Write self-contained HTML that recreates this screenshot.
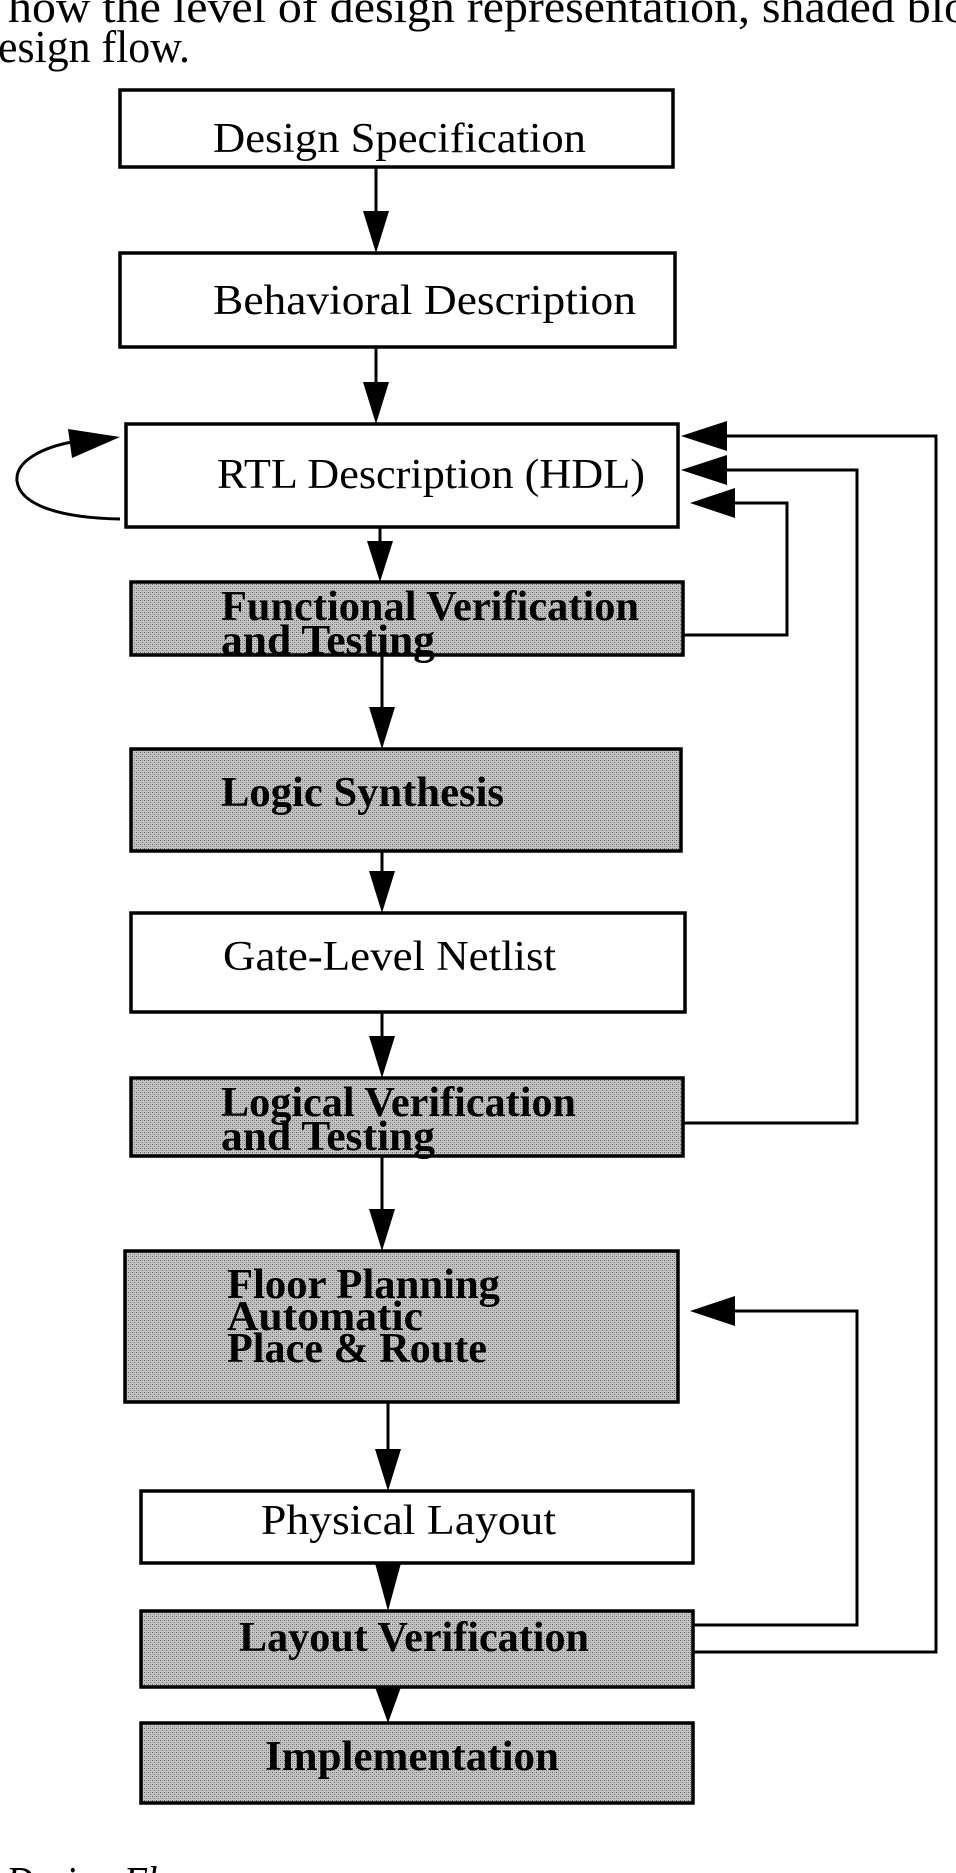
<!DOCTYPE html>
<html><head><meta charset="utf-8"><style>
html,body{margin:0;padding:0;background:#fff;}
svg{display:block;}
text{font-family:"Liberation Serif",serif;fill:#000;}
</style></head><body>
<svg width="956" height="1873" viewBox="0 0 956 1873" xmlns="http://www.w3.org/2000/svg">
<defs>
<pattern id="sh" width="4" height="4" patternUnits="userSpaceOnUse">
<rect width="4" height="4" fill="#c4c4c4"/>
<rect x="0" y="0" width="1" height="1" fill="#666"/>
<rect x="2" y="2" width="1" height="1" fill="#777"/>
<rect x="2" y="0" width="1" height="1" fill="#999"/>
<rect x="0" y="2" width="1" height="1" fill="#aaa"/>
</pattern>
</defs>
<text x="8" y="22" font-size="46" textLength="960" lengthAdjust="spacingAndGlyphs">how the level of design representation, shaded blo</text>
<text x="-2" y="62" font-size="46" textLength="192" lengthAdjust="spacingAndGlyphs">esign flow.</text>

<g stroke="#000" stroke-width="3.5">
<rect x="120" y="90" width="553" height="77" fill="#fff"/>
<rect x="120" y="253" width="555" height="94" fill="#fff"/>
<rect x="126" y="424" width="552" height="103" fill="#fff"/>
<rect x="131" y="582" width="552" height="73" fill="url(#sh)"/>
<rect x="131" y="749" width="550" height="102" fill="url(#sh)"/>
<rect x="131" y="913" width="554" height="99" fill="#fff"/>
<rect x="131" y="1078" width="552" height="78" fill="url(#sh)"/>
<rect x="125" y="1251" width="553" height="151" fill="url(#sh)"/>
<rect x="141" y="1491" width="552" height="72" fill="#fff"/>
<rect x="141" y="1611" width="552" height="76" fill="url(#sh)"/>
<rect x="141" y="1723" width="552" height="80" fill="url(#sh)"/>
</g>

<g stroke="#000" stroke-width="3" fill="none">
<line x1="376" y1="167" x2="376" y2="215"/>
<line x1="376" y1="347" x2="376" y2="386"/>
<line x1="380" y1="527" x2="380" y2="545"/>
<line x1="382" y1="655" x2="382" y2="710"/>
<line x1="382" y1="851" x2="382" y2="875"/>
<line x1="382" y1="1012" x2="382" y2="1040"/>
<line x1="382" y1="1156" x2="382" y2="1212"/>
<line x1="388" y1="1402" x2="388" y2="1452"/>
<polyline points="693,1652 936,1652 936,436 725,436"/>
<polyline points="683,1123 857,1123 857,470 725,470"/>
<polyline points="683,635 787,635 787,503 735,503"/>
<polyline points="693,1625 857,1625 857,1311 730,1311"/>
<path d="M120,519 C60,518 20,505 17,481 C15,460 45,447 72,442"/>
</g>
<g fill="#000">
<polygon points="363,211 389,211 376,253"/>
<polygon points="363,382 389,382 376,424"/>
<polygon points="367,541 393,541 380,582"/>
<polygon points="369,707 395,707 382,749"/>
<polygon points="369,871 395,871 382,913"/>
<polygon points="369,1036 395,1036 382,1078"/>
<polygon points="369,1209 395,1209 382,1251"/>
<polygon points="375,1449 401,1449 388,1491"/>
<polygon points="375,1563 401,1563 388,1611"/>
<polygon points="375,1687 401,1687 388,1723"/>
<polygon points="681,436 727,421 727,451"/>
<polygon points="681,470 727,455 727,485"/>
<polygon points="690,503 735,488 735,518"/>
<polygon points="690,1311 735,1296 735,1326"/>
<polygon points="120,437 68,429 72,458"/>
</g>

<g font-size="42">
<text x="213" y="152" textLength="373" lengthAdjust="spacingAndGlyphs">Design Specification</text>
<text x="213" y="314" textLength="423" lengthAdjust="spacingAndGlyphs">Behavioral Description</text>
<text x="217" y="488" textLength="428" lengthAdjust="spacingAndGlyphs">RTL Description (HDL)</text>
<text x="221" y="620" textLength="418" lengthAdjust="spacingAndGlyphs" font-weight="bold">Functional Verification</text>
<text x="221" y="654" textLength="214" lengthAdjust="spacingAndGlyphs" font-weight="bold">and Testing</text>
<text x="221" y="806" textLength="283" lengthAdjust="spacingAndGlyphs" font-weight="bold">Logic Synthesis</text>
<text x="223" y="970" textLength="333" lengthAdjust="spacingAndGlyphs">Gate-Level Netlist</text>
<text x="221" y="1116" textLength="355" lengthAdjust="spacingAndGlyphs" font-weight="bold">Logical Verification</text>
<text x="221" y="1150" textLength="214" lengthAdjust="spacingAndGlyphs" font-weight="bold">and Testing</text>
<text x="227" y="1298" textLength="273" lengthAdjust="spacingAndGlyphs" font-weight="bold">Floor Planning</text>
<text x="227" y="1330" textLength="196" lengthAdjust="spacingAndGlyphs" font-weight="bold">Automatic</text>
<text x="227" y="1362" textLength="260" lengthAdjust="spacingAndGlyphs" font-weight="bold">Place &amp; Route</text>
<text x="261" y="1534" textLength="295" lengthAdjust="spacingAndGlyphs">Physical Layout</text>
<text x="239" y="1651" textLength="350" lengthAdjust="spacingAndGlyphs" font-weight="bold">Layout Verification</text>
<text x="265" y="1770" textLength="294" lengthAdjust="spacingAndGlyphs" font-weight="bold">Implementation</text>
</g>
<text x="6" y="1897" font-size="44" font-style="italic" textLength="196" lengthAdjust="spacingAndGlyphs">Design Flow</text>
</svg>
</body></html>
